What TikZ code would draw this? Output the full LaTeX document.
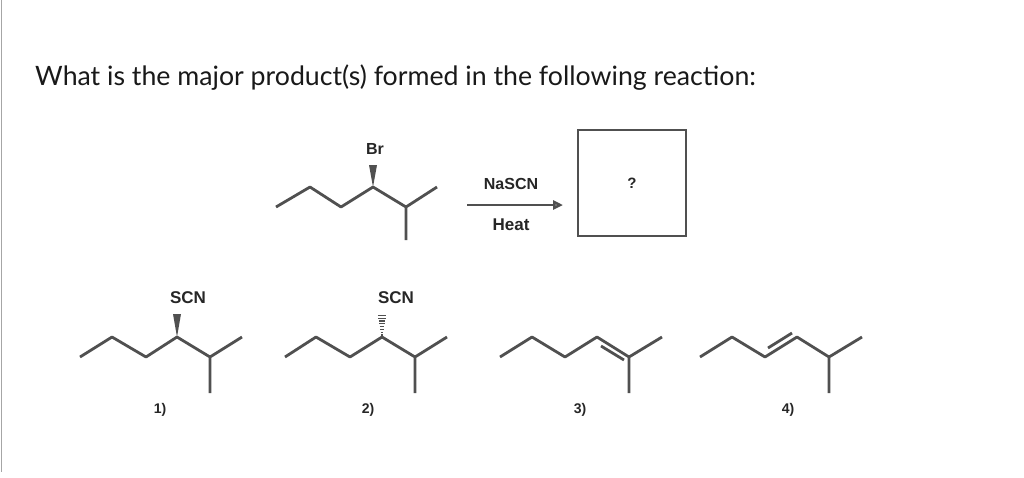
\documentclass[tikz,border=0pt]{standalone}
\usepackage{fontspec}
\setmainfont{Lato}
\newfontfamily\chemf{Liberation Sans}
\usetikzlibrary{arrows.meta}
\definecolor{bond}{HTML}{505050}
\begin{document}
\begin{tikzpicture}[x=1pt,y=-1pt,
  bd/.style={draw=bond,line width=2.8pt,line join=round},
  lbl/.style={font=\chemf\bfseries\fontsize{17}{18}\selectfont,text=black!85,inner sep=0pt},
  num/.style={font=\chemf\bfseries\fontsize{14}{15}\selectfont,text=black!85,inner sep=0pt}]
\useasboundingbox[fill=white] (0,0) rectangle (1024,477);
\draw[gray!70,line width=1.5pt] (1.5,0) -- (1.5,472);
\node[anchor=west,inner sep=0pt,font=\fontsize{26.7}{29}\selectfont,text=black!90] (q) at (35,78) {What is the major product(s) formed in the following reaction:};
% reactant
\draw[bd] (276,207)--(310,187)--(341,207)--(373,187)--(406,207)--(437,187) (406,207)--(406,240);
\coordinate (rc) at (373,187);
\fill[bond] (rc) -- (369,165) -- (377,165) -- cycle;
\node[lbl,font=\chemf\bfseries\fontsize{16}{17}\selectfont] (br) at (375,149) {Br};
% arrow
\coordinate (a1) at (467,205); \coordinate (a2) at (563,205);
\draw[bond,line width=2.6pt,-{Triangle[open,length=10pt,width=9pt]}] (a1) -- (a2);
\node[lbl,font=\chemf\bfseries\fontsize{16}{17}\selectfont] (na) at (511,184) {NaSCN};
\node[lbl] (ht) at (511,225) {Heat};
\node[draw=bond,line width=2pt,minimum width=108pt,minimum height=106pt,lbl,font=\chemf\bfseries\fontsize{15}{16}\selectfont] (box) at (632,183) {?};
% product 1
\draw[bd] (80,357)--(112,337)--(146,357)--(177,337)--(210,357)--(242,337) (210,357)--(210,393);
\fill[bond] (177,337) -- (173,314) -- (181,314) -- cycle;
\node[lbl] (s1) at (188,298) {SCN};
\node[num] (l1) at (160,410) {1)};
% product 2
\draw[bd] (285,357)--(316,337)--(350,357)--(382,337)--(415,357)--(447,337) (415,357)--(415,393);
\foreach \i in {0,...,7}{\pgfmathsetmacro\yy{335-2.8*\i}\pgfmathsetmacro\ww{0.6+0.5*\i}
  \draw[bond,line width=1.2pt] (382-\ww,\yy) -- (382+\ww,\yy);}
\node[lbl] (s2) at (396,298) {SCN};
\node[num] (l2) at (368,410) {2)};
% product 3
\draw[bd] (500,357)--(532,337)--(565,357)--(597,337)--(629,357)--(662,337) (629,357)--(629,393);
\draw[bd] (601,346)--(624,360);
\node[num] (l3) at (580,410) {3)};
% product 4
\draw[bd] (700,357)--(732,337)--(765,357)--(797,337)--(829,357)--(862,337) (829,357)--(829,393);
\draw[bd] (768,348)--(792,333);
\node[num] (l4) at (788,410) {4)};
\end{tikzpicture}
\end{document}
